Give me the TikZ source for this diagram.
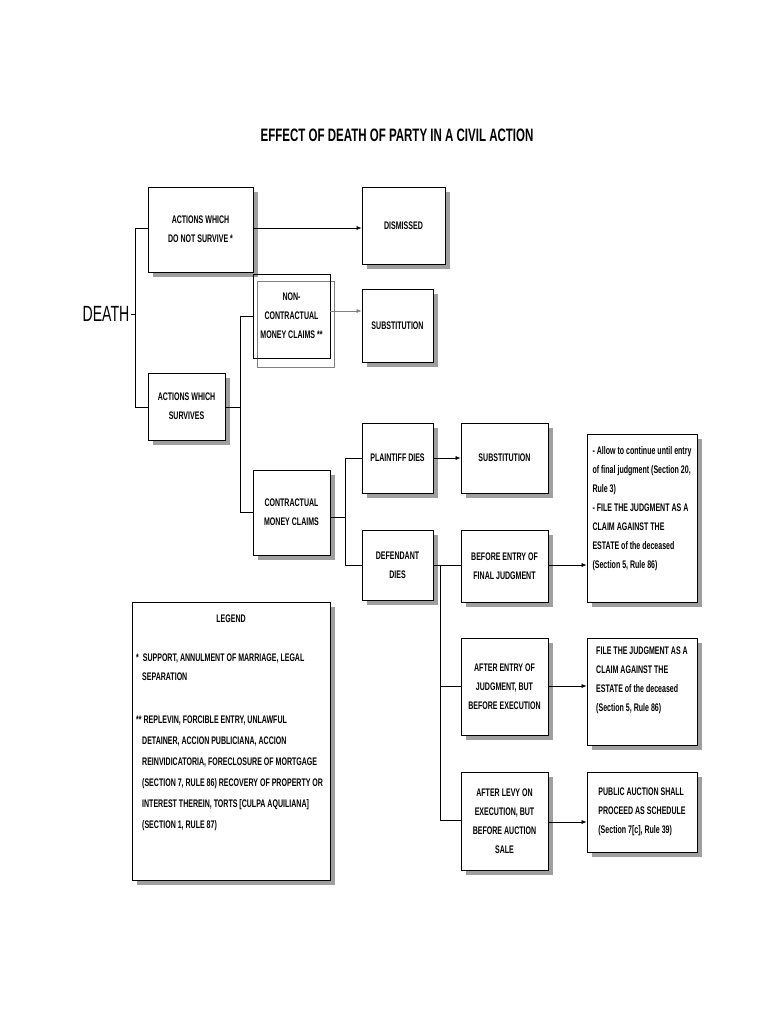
\documentclass[tikz,border=0pt]{standalone}
\usepackage{fontspec}
\setmainfont{Liberation Sans}[FakeStretch=0.64]
\usetikzlibrary{shadows,arrows.meta}
\tikzset{
 bx/.style={draw,thick,fill=white,font=\bfseries\fontsize{11}{19}\selectfont,align=center,inner sep=2pt,
   drop shadow={shadow xshift=5pt,shadow yshift=-5pt,fill=gray!75,opacity=1}},
 bxl/.style={bx,align=left},
 ln/.style={draw,line width=0.6pt},
 ar/.style={ln,-{Latex[length=5pt,width=4pt]}}
}
\newcommand{\bxx}[7][bx]{\node[#1,minimum width={#5-#3},minimum height={#6-#4}] (#2) at ({(#3+#5)/2},{(#4+#6)/2}) {#7};}
\begin{document}
\begin{tikzpicture}[x=1pt,y=-1pt]
\useasboundingbox (0,0) rectangle (768,1024);
\node[font=\bfseries\fontsize{18}{20}\selectfont] (title) at (397,135) {EFFECT OF DEATH OF PARTY IN A CIVIL ACTION};
\node[font=\fontsize{22}{24}\selectfont,inner sep=1pt] (death) at (106,314) {DEATH};
\bxx{ns}{148}{187}{253}{272}{ACTIONS WHICH\\DO NOT SURVIVE *}
\bxx{dis}{362}{187}{445}{264}{DISMISSED}
\draw[gray,thick] (257,281) rectangle (334,367);
\node[draw,thick,align=center,font=\bfseries\fontsize{11}{19}\selectfont,minimum width=77,minimum height=84] (nc) at (291.5,316) {NON-\\CONTRACTUAL\\MONEY CLAIMS **};
\bxx{sub1}{362}{289}{433}{362}{SUBSTITUTION}
\bxx{sv}{148}{373}{225}{440}{ACTIONS WHICH\\SURVIVES}
\bxx{cc}{253}{470}{330}{555}{CONTRACTUAL\\MONEY CLAIMS}
\bxx{pd}{362}{423}{433}{493}{PLAINTIFF DIES}
\bxx{sub2}{461}{423}{548}{493}{SUBSTITUTION}
\bxx[bxl]{r1}{587}{434}{697}{602}{- Allow to continue until entry\\of final judgment (Section 20,\\Rule 3)\\- FILE THE JUDGMENT AS A\\CLAIM AGAINST THE\\ESTATE of the deceased\\(Section 5, Rule 86)\\[2pt]}
\bxx{dd}{362}{530}{433}{600}{DEFENDANT\\DIES}
\bxx{be}{461}{530}{548}{602}{BEFORE ENTRY OF\\FINAL JUDGMENT}
\bxx{ae}{461}{638}{548}{735}{AFTER ENTRY OF\\JUDGMENT, BUT\\BEFORE EXECUTION}
\bxx[bxl]{r2}{587}{638}{697}{745}{FILE THE JUDGMENT AS A\\CLAIM AGAINST THE\\ESTATE of the deceased\\(Section 5, Rule 86)\\[6pt]}
\bxx{al}{461}{772}{548}{870}{AFTER LEVY ON\\EXECUTION, BUT\\BEFORE AUCTION\\SALE}
\bxx[bxl]{r3}{587}{772}{697}{852}{PUBLIC AUCTION SHALL\\PROCEED AS SCHEDULE\\(Section 7[c], Rule 39)}
\node[bx,minimum width=198,minimum height=278,anchor=north west] (lg) at (132,602) {};
\node[font=\bfseries\fontsize{11}{19}\selectfont] (lgt) at (231,619) {LEGEND};
\node[font=\bfseries\fontsize{11}{19}\selectfont,align=left,anchor=north west,inner sep=0pt] (lg1) at (136,654)
 {*\ \ SUPPORT, ANNULMENT OF MARRIAGE, LEGAL\\\hspace*{6pt}SEPARATION};
\node[font=\bfseries\fontsize{11}{21}\selectfont,align=left,anchor=north west,inner sep=0pt] (lg2) at (136,716)
 {** REPLEVIN, FORCIBLE ENTRY, UNLAWFUL\\\hspace*{6pt}DETAINER, ACCION PUBLICIANA, ACCION\\\hspace*{6pt}REINVIDICATORIA, FORECLOSURE OF MORTGAGE\\\hspace*{6pt}(SECTION 7, RULE 86) RECOVERY OF PROPERTY OR\\\hspace*{6pt}INTEREST THEREIN, TORTS [CULPA AQUILIANA]\\\hspace*{6pt}(SECTION 1, RULE 87)};
% connectors
\coordinate (j1) at (135,314);
\draw[ln] (death.east) -- (j1);
\draw[ln] (135,228) -- (135,407);
\draw[ln] (135,228) -- (ns.west|-0,228);
\draw[ln] (135,407) -- (sv.west|-0,407);
\draw[ar] (ns.east|-0,228) -- (dis.west|-0,228);
\draw[ar,gray] (nc.east|-0,311) -- (sub1.west|-0,311);
\draw[ln] (sv.east|-0,407) -- (240,407);
\draw[ln] (240,316) -- (240,512);
\draw[ln] (240,316) -- (nc.west|-0,316);
\draw[ln] (240,512) -- (cc.west|-0,512);
\draw[ln] (cc.east|-0,517) -- (345,517);
\draw[ln] (345,458) -- (345,565);
\draw[ln] (345,458) -- (pd.west|-0,458);
\draw[ln] (345,565) -- (dd.west|-0,565);
\draw[ar] (pd.east|-0,458) -- (sub2.west|-0,458);
\draw[ln] (dd.east|-0,565) -- (440,565);
\draw[ln] (440,565) -- (440,820);
\draw[ln] (440,565) -- (be.west|-0,565);
\draw[ln] (440,686) -- (ae.west|-0,686);
\draw[ln] (440,820) -- (al.west|-0,820);
\draw[ar] (be.east|-0,565) -- (r1.west|-0,565);
\draw[ar] (ae.east|-0,686) -- (r2.west|-0,686);
\draw[ar] (al.east|-0,822) -- (r3.west|-0,822);
\end{tikzpicture}
\end{document}
